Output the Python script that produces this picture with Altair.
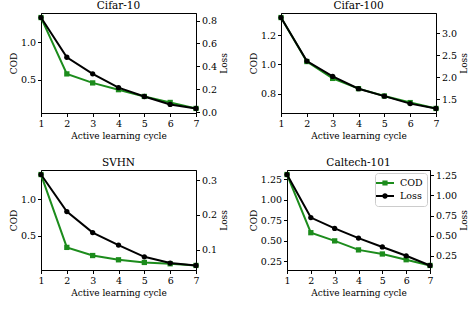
import altair as alt
import pandas as pd

cycles = [1, 2, 3, 4, 5, 6, 7]
series_names = ["COD", "Loss"]

cod_cifar10 = [1.33, 0.58, 0.46, 0.37, 0.28, 0.20, 0.12]
loss_cifar10 = [0.826, 0.48, 0.336, 0.215, 0.138, 0.069, 0.034]
cod_cifar100 = [1.32, 1.02, 0.905, 0.835, 0.785, 0.74, 0.70]
loss_cifar100 = [3.36, 2.37, 2.02, 1.74, 1.57, 1.40, 1.29]
cod_svhn = [1.335, 0.343, 0.232, 0.174, 0.138, 0.12, 0.097]
loss_svhn = [0.317, 0.21, 0.149, 0.113, 0.079, 0.061, 0.054]
cod_caltech = [1.31, 0.60, 0.50, 0.39, 0.34, 0.27, 0.20]
loss_caltech = [1.26, 0.725, 0.59, 0.47, 0.36, 0.25, 0.13]

ticks_cod_cifar10 = [0.5, 1.0]
ticks_loss_cifar10 = [0.0, 0.2, 0.4, 0.6, 0.8]
ticks_cod_cifar100 = [0.8, 1.0, 1.2]
ticks_loss_cifar100 = [1.5, 2.0, 2.5, 3.0]
ticks_cod_svhn = [0.5, 1.0]
ticks_loss_svhn = [0.1, 0.2, 0.3]
ticks_cod_caltech = [0.25, 0.5, 0.75, 1.0, 1.25]
ticks_loss_caltech = [0.25, 0.5, 0.75, 1.0, 1.25]

GREEN = "#1c8c1c"
FONT = "DejaVu Serif"
SQ_PATH = "M-1.8,0H1.8M-0.32,-0.32H0.32V0.32H-0.32Z"
CI_PATH = "M-1.8,0H1.8M0.34,0A0.34,0.34 0 1,1 -0.34,0A0.34,0.34 0 1,1 0.34,0Z"


def margin_domain(vals):
    lo, hi = min(vals), max(vals)
    m = (hi - lo) * 0.05
    return [lo - m, hi + m]


def panel(name, cod, loss, cod_ticks, loss_ticks, fmt, width, legend=False):
    df = pd.DataFrame({"cycle": cycles, "COD": cod, "Loss": loss})
    x = alt.X("cycle:Q", scale=alt.Scale(domain=[1, 7], nice=False, zero=False),
              axis=alt.Axis(values=cycles, format="d", title="Active learning cycle",
                            labelFlush=False, titlePadding=3))
    ycod = alt.Y("COD:Q", scale=alt.Scale(domain=margin_domain(cod), nice=False, zero=False),
                 axis=alt.Axis(orient="left", values=cod_ticks, format=fmt, title="COD",
                               titlePadding=2))
    yloss = alt.Y("Loss:Q", scale=alt.Scale(domain=margin_domain(loss), nice=False, zero=False),
                  axis=alt.Axis(orient="right", values=loss_ticks, format=fmt, title="Loss",
                                titleAngle=270, titleBaseline="top", titlePadding=3))
    base = alt.Chart(df)
    cod_layer = alt.layer(
        base.mark_line(color=GREEN, strokeWidth=2).encode(x=x, y=ycod),
        base.mark_point(shape="square", filled=True, size=28, color=GREEN, opacity=1).encode(x=x, y=ycod),
    )
    loss_layer = alt.layer(
        base.mark_line(color="black", strokeWidth=2).encode(x=x, y=yloss),
        base.mark_point(shape="circle", filled=True, size=28, color="black", opacity=1).encode(x=x, y=yloss),
    )
    layers = [cod_layer, loss_layer]
    if legend:
        leg = alt.Legend(title=None, orient="top-right", offset=3, padding=4,
                         strokeColor="#cccccc", fillColor="white", cornerRadius=3,
                         labelFont=FONT, labelFontSize=9.5, labelColor="black",
                         symbolSize=100, symbolStrokeWidth=2, rowPadding=1, labelOffset=9)
        leg_df = pd.DataFrame({"series": series_names})
        layers.append(
            alt.Chart(leg_df).mark_point(filled=True, size=100, strokeWidth=2, opacity=1).encode(
                fill=alt.Fill("series:N", scale=alt.Scale(domain=series_names, range=[GREEN, "black"]), legend=leg),
                stroke=alt.Stroke("series:N", scale=alt.Scale(domain=series_names, range=[GREEN, "black"]), legend=leg),
                shape=alt.Shape("series:N", scale=alt.Scale(domain=series_names, range=[SQ_PATH, CI_PATH]), legend=leg),
            ).transform_filter("false")
        )
    return alt.layer(*layers).resolve_scale(y="independent").properties(
        width=width, height=100,
        title=alt.TitleParams(name, font=FONT, fontSize=10.5, fontWeight="normal", color="black", offset=2),
    )


p1 = panel("Cifar-10", cod_cifar10, loss_cifar10, ticks_cod_cifar10, ticks_loss_cifar10, ".1f", 155)
p2 = panel("Cifar-100", cod_cifar100, loss_cifar100, ticks_cod_cifar100, ticks_loss_cifar100, ".1f", 155)
p3 = panel("SVHN", cod_svhn, loss_svhn, ticks_cod_svhn, ticks_loss_svhn, ".1f", 155)
p4 = panel("Caltech-101", cod_caltech, loss_caltech, ticks_cod_caltech, ticks_loss_caltech, ".2f", 143, legend=True)

res = dict(fill="independent", stroke="independent", shape="independent", color="independent")
row1 = alt.hconcat(p1, p2, spacing=18).resolve_scale(**res)
row2 = alt.hconcat(p3, p4, spacing=18).resolve_scale(**res)

chart = alt.vconcat(row1, row2, spacing=16).resolve_scale(**res).properties(
    padding={"left": 8, "top": 0, "right": 0, "bottom": 0}
).configure_axis(
    labelFont=FONT, titleFont=FONT, labelFontSize=9.5, titleFontSize=9,
    titleFontWeight="normal", labelColor="black", titleColor="black",
    domainColor="black", tickColor="black", tickSize=3.5, grid=False,
    labelPadding=2, domainWidth=1, tickWidth=1,
).configure_view(stroke="black", strokeWidth=1)

chart.save("out.html", embed_options={"renderer": "svg", "actions": False})
